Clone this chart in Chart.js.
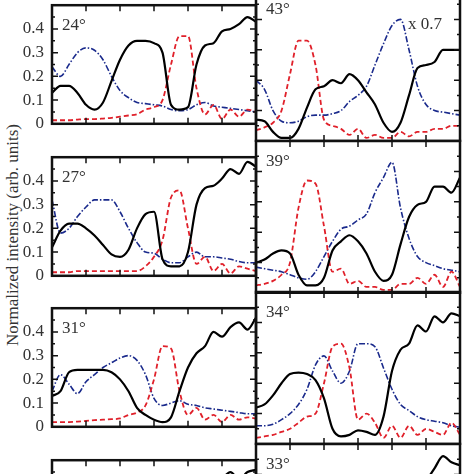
<!DOCTYPE html>
<html>
<head>
<meta charset="utf-8">
<script src="https://cdn.jsdelivr.net/npm/chart.js@4"></script>
<style>
  body { margin: 0; background: #fff; }
  #wrap { position: relative; width: 474px; height: 474px; overflow: hidden; }
  #wrap canvas { position: absolute; }
  #ylab {
    position: absolute; left: 13px; top: 235px; white-space: nowrap;
    transform: translate(-50%, -50%) rotate(-90deg);
    font: 17px "Liberation Serif", serif; color: #333;
  }
</style>
</head>
<body>
<div id="wrap"><div id="ylab">Normalized intensity (arb. units)</div></div>
<script>
// x positions shared by every panel (0..6, step 0.25)
const xs = [0,0.25,0.5,0.75,1,1.25,1.5,1.75,2,2.25,2.5,2.75,3,3.25,3.5,3.75,4,4.25,4.5,4.75,5,5.25,5.5,5.75,6];
const yTicks = [0, 0.1, 0.2, 0.3, 0.4];

const labels = ["24°", "43°", "27°", "39°", "31°", "34°", "32°", "33°"];

// black solid
const black24 = [0.13,0.16,0.16,0.13,0.08,0.06,0.09,0.18,0.27,0.33,0.35,0.35,0.34,0.30,0.08,0.06,0.07,0.25,0.33,0.34,0.39,0.40,0.42,0.45,0.43];
const black43 = [0.07,0.065,0.03,0.01,0.01,0.04,0.11,0.17,0.18,0.20,0.19,0.22,0.20,0.16,0.12,0.06,0.03,0.06,0.15,0.24,0.25,0.26,0.30,0.30,0.30];
const black27 = [0.12,0.19,0.22,0.22,0.20,0.17,0.13,0.09,0.08,0.11,0.20,0.26,0.27,0.07,0.04,0.04,0.10,0.30,0.37,0.38,0.41,0.45,0.43,0.48,0.46];
const black39 = [0.10,0.11,0.13,0.14,0.13,0.06,0.025,0.025,0.05,0.14,0.17,0.19,0.17,0.13,0.07,0.04,0.06,0.16,0.25,0.29,0.30,0.35,0.35,0.33,0.38];
const black31 = [0.13,0.15,0.23,0.24,0.24,0.24,0.24,0.23,0.20,0.15,0.08,0.05,0.03,0.02,0.04,0.15,0.25,0.31,0.34,0.40,0.38,0.42,0.44,0.41,0.46];
const black34 = [0.12,0.13,0.16,0.20,0.23,0.235,0.23,0.21,0.15,0.05,0.025,0.03,0.045,0.04,0.03,0.09,0.24,0.31,0.33,0.39,0.37,0.42,0.40,0.43,0.42];
const black32 = [0.12,0.15,0.20,0.22,0.22,0.20,0.16,0.10,0.06,0.05,0.08,0.15,0.22,0.20,0.10,0.05,0.08,0.20,0.30,0.38,0.42,0.45,0.42,0.45,0.46];
const black33 = [0.10,0.12,0.16,0.20,0.22,0.22,0.20,0.12,0.05,0.03,0.04,0.05,0.04,0.06,0.12,0.22,0.28,0.32,0.34,0.36,0.38,0.42,0.46,0.44,0.43];

// red dashed
const red24 = [0.015,0.015,0.015,0.018,0.02,0.02,0.022,0.025,0.03,0.035,0.04,0.06,0.07,0.10,0.25,0.37,0.37,0.15,0.04,0.08,0.02,0.06,0.03,0.06,0.05];
const red43 = [0.035,0.045,0.06,0.10,0.22,0.33,0.33,0.25,0.07,0.05,0.04,0.02,0.04,0.01,0.02,0.01,0.01,0.03,0.015,0.03,0.03,0.04,0.04,0.05,0.05];
const red27 = [0.015,0.015,0.015,0.02,0.02,0.02,0.02,0.02,0.02,0.02,0.02,0.04,0.08,0.15,0.33,0.36,0.20,0.05,0.08,0.02,0.05,0.01,0.04,0.03,0.02];
const red39 = [0.025,0.03,0.04,0.06,0.10,0.28,0.37,0.36,0.22,0.07,0.08,0.03,0.04,0.02,0.02,0.01,0.01,0.03,0.03,0.05,0.03,0.06,0.02,0.07,0.02];
const red31 = [0.02,0.02,0.02,0.022,0.025,0.028,0.03,0.032,0.035,0.05,0.06,0.09,0.20,0.34,0.33,0.15,0.05,0.08,0.03,0.05,0.02,0.05,0.03,0.04,0.035];
const red34 = [0.02,0.025,0.03,0.04,0.05,0.07,0.09,0.10,0.20,0.32,0.33,0.25,0.08,0.10,0.07,0.02,0.06,0.02,0.06,0.03,0.05,0.04,0.03,0.07,0.03];
const red32 = [0.02,0.02,0.02,0.025,0.03,0.03,0.04,0.05,0.08,0.20,0.34,0.33,0.15,0.05,0.07,0.03,0.05,0.02,0.04,0.03,0.04,0.03,0.04,0.03,0.03];
const red33 = [0.02,0.03,0.04,0.05,0.08,0.12,0.25,0.33,0.30,0.12,0.08,0.05,0.06,0.03,0.05,0.02,0.05,0.03,0.04,0.03,0.05,0.03,0.04,0.05,0.03];

// blue dash-dot
const blue24 = [0.24,0.20,0.25,0.30,0.32,0.31,0.27,0.20,0.14,0.11,0.09,0.085,0.08,0.075,0.06,0.055,0.06,0.08,0.09,0.075,0.07,0.065,0.06,0.055,0.05];
const blue43 = [0.20,0.17,0.10,0.065,0.06,0.065,0.08,0.085,0.085,0.09,0.10,0.13,0.15,0.18,0.25,0.32,0.38,0.40,0.30,0.18,0.12,0.10,0.095,0.09,0.085];
const blue27 = [0.32,0.18,0.20,0.25,0.29,0.32,0.32,0.32,0.27,0.20,0.14,0.10,0.095,0.07,0.055,0.055,0.08,0.10,0.08,0.08,0.075,0.07,0.06,0.055,0.055];
const blue39 = [0.085,0.08,0.075,0.07,0.06,0.05,0.045,0.07,0.12,0.17,0.21,0.22,0.24,0.26,0.33,0.38,0.43,0.28,0.18,0.12,0.10,0.09,0.08,0.075,0.07];
const blue31 = [0.15,0.22,0.18,0.14,0.19,0.22,0.25,0.27,0.29,0.30,0.28,0.22,0.12,0.09,0.10,0.11,0.095,0.09,0.08,0.075,0.07,0.065,0.06,0.055,0.055];
const blue34 = [0.06,0.06,0.065,0.08,0.10,0.13,0.18,0.26,0.29,0.24,0.20,0.24,0.33,0.33,0.32,0.25,0.18,0.13,0.11,0.09,0.08,0.075,0.07,0.06,0.055];
const blue32 = [0.15,0.20,0.18,0.16,0.20,0.24,0.27,0.29,0.30,0.28,0.20,0.12,0.10,0.11,0.10,0.09,0.08,0.075,0.07,0.065,0.06,0.06,0.055,0.055,0.05];
const blue33 = [0.06,0.06,0.07,0.09,0.12,0.18,0.25,0.28,0.22,0.26,0.32,0.33,0.30,0.22,0.15,0.12,0.10,0.09,0.08,0.075,0.07,0.065,0.06,0.06,0.055];

const blacks = [black24, black43, black27, black39, black31, black34, black32, black33];
const reds = [red24, red43, red27, red39, red31, red34, red32, red33];
const blues = [blue24, blue43, blue27, blue39, blue31, blue34, blue32, blue33];

const wrap = document.getElementById("wrap");
const serif = "'Liberation Serif', 'DejaVu Serif', serif";

// frame, inward ticks and panel label
const framePlugin = {
  id: "frame",
  afterDraw(chart, args, opts) {
    const { ctx, chartArea: a, scales } = chart;
    ctx.save();
    ctx.strokeStyle = "#111";
    ctx.lineWidth = 1.5;
    for (let v = 0; v <= 0.5001; v += 0.05) {
      const y = scales.y.getPixelForValue(v);
      const len = Math.round(v * 100) % 10 === 0 ? 6 : 3;
      ctx.beginPath();
      ctx.moveTo(a.left, y); ctx.lineTo(a.left + len, y);
      ctx.moveTo(a.right, y); ctx.lineTo(a.right - len, y);
      ctx.stroke();
    }
    for (let v = 0; v <= 6; v++) {
      const x = scales.x.getPixelForValue(v);
      ctx.beginPath();
      ctx.moveTo(x, a.bottom); ctx.lineTo(x, a.bottom - 6);
      ctx.moveTo(x, a.top); ctx.lineTo(x, a.top + 6);
      ctx.stroke();
    }
    ctx.lineWidth = 2.5;
    ctx.strokeRect(a.left, a.top, a.right - a.left, a.bottom - a.top);
    ctx.fillStyle = "#333";
    ctx.font = "17px " + serif;
    ctx.textBaseline = "alphabetic";
    ctx.fillText(opts.label, a.left + 10, a.top + 25);
    if (opts.note) ctx.fillText(opts.note, a.left + 152, a.top + 40);
    ctx.restore();
  }
};

labels.forEach((lab, i) => {
  const col = i % 2, row = Math.floor(i / 2);
  const rowTop = -11 + 151.5 * row;
  const canvas = document.createElement("canvas");
  const w = col === 0 ? 258 : 208;
  canvas.width = w; canvas.height = 155;
  canvas.style.left = (col === 0 ? 0 : 254) + "px";
  canvas.style.top = (rowTop - 2) + "px";
  canvas.style.width = w + "px"; canvas.style.height = "155px";
  wrap.appendChild(canvas);

  new Chart(canvas, {
    type: "line",
    data: {
      datasets: [
        { data: xs.map((x, k) => ({ x, y: blacks[i][k] })), borderColor: "#000", borderWidth: 2.2 },
        { data: xs.map((x, k) => ({ x, y: reds[i][k] })), borderColor: "#e0202a", borderWidth: 1.8, borderDash: [5, 3] },
        { data: xs.map((x, k) => ({ x, y: blues[i][k] })), borderColor: "#1a2a8c", borderWidth: 1.6, borderDash: [6, 2, 1.5, 2] }
      ]
    },
    options: {
      responsive: false,
      animation: false,
      clip: false,
      elements: { point: { radius: 0 }, line: { tension: 0.4, cubicInterpolationMode: "monotone" } },
      layout: { padding: { top: 2, bottom: 1, left: col === 0 ? 0 : 2, right: 2 } },
      plugins: {
        legend: { display: false },
        tooltip: { enabled: false },
        frame: { label: lab, note: i === 1 ? "x 0.7" : "" }
      },
      scales: {
        x: { type: "linear", min: 0, max: 6, display: false },
        y: {
          min: 0, max: 0.5,
          display: col === 0,
          grid: { display: false, drawTicks: false },
          border: { display: false },
          afterFit: s => { if (col === 0) s.width = 52; },
          afterBuildTicks: s => { s.ticks = yTicks.map(v => ({ value: v })); },
          ticks: {
            padding: 8,
            color: "#333",
            font: { family: serif, size: 17 },
            callback: v => v === 0 ? "0" : v.toFixed(1)
          }
        }
      }
    },
    plugins: [framePlugin]
  });
});
</script>
</body>
</html>
